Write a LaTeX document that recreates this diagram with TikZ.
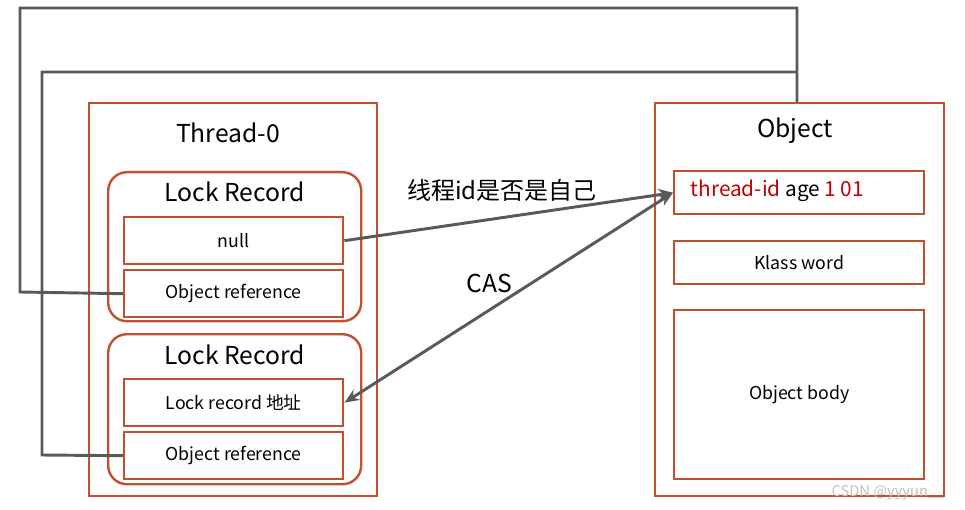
\documentclass[tikz,border=0pt]{standalone}
\usepackage{fontspec}
\setmainfont{Noto Sans CJK SC}
\usetikzlibrary{arrows.meta}
\definecolor{br}{HTML}{C0502E}
\definecolor{ln}{HTML}{595959}
\definecolor{rd}{HTML}{C00000}
\begin{document}
\begin{tikzpicture}[x=0.75pt,y=-0.75pt,
 box/.style={draw=br,line width=1.8pt,inner sep=0pt,anchor=north west},
 rbox/.style={box,rounded corners=14pt},
 con/.style={draw=ln,line width=2.2pt},
 arr/.style={con,-{Stealth[length=11pt,width=9pt]}},
 big/.style={font=\fontsize{18.5}{18.5}\selectfont},
 sm/.style={font=\fontsize{13.3}{13.3}\selectfont}]
\useasboundingbox (0,0) rectangle (965,510);
\node[box,minimum width=216pt,minimum height=294.75pt] (t0) at (88,102) {};
\node[big] (t0l) at (228,133) {Thread-0};
\node[rbox,minimum width=189.75pt,minimum height=111.75pt] (lr1) at (107,171) {};
\node[big] (lr1l) at (235,192) {Lock Record};
\node[box,minimum width=164.25pt,minimum height=35.25pt] (nul) at (123,216) {};
\node[sm] at (nul.center) {null};
\node[box,minimum width=164.25pt,minimum height=35.25pt] (or1) at (123,269) {};
\node[sm] at (or1.center) {Object reference};
\node[rbox,minimum width=189.75pt,minimum height=112.5pt] (lr2) at (107,333) {};
\node[big] (lr2l) at (235,355) {Lock Record};
\node[box,minimum width=164.25pt,minimum height=35.25pt] (lra) at (123,378) {};
\node[sm] at (lra.center) {Lock record 地址};
\node[box,minimum width=164.25pt,minimum height=35.25pt] (or2) at (123,431) {};
\node[sm] at (or2.center) {Object reference};
\node[box,minimum width=216.75pt,minimum height=294.75pt] (obj) at (654,102) {};
\node[big] (objl) at (795,131) {Object};
\node[box,minimum width=187.5pt,minimum height=32.25pt] (tid) at (673,170) {};
\node[font=\fontsize{15.6}{15.6}\selectfont,anchor=west] at (686,191) {\textcolor{rd}{thread-id} age \textcolor{rd}{1 01}};
\node[box,minimum width=187.5pt,minimum height=32.25pt] (kw) at (673,240) {};
\node[sm] at (kw.center) {Klass word};
\node[box,minimum width=187.5pt,minimum height=126.75pt] (ob) at (673,309) {};
\node[sm] at (ob.center) {Object body};
\coordinate (top) at (797,102);
\draw[con] (or1.west) -- (20,292) -- (20,8) -- (797,8) -- (top);
\draw[con] (or2.west) -- (42,455) -- (42,72) -- (797,72);
\draw[arr] (nul.east) -- (tid.west);
\draw[con,{Stealth[length=11pt,width=9pt]}-{Stealth[length=11pt,width=9pt]}] (lra.east) -- (tid.west);
\node[font=\fontsize{18}{18}\selectfont] (q) at (502,190) {线程id是否是自己};
\node[font=\fontsize{18.5}{18.5}\selectfont] (cas) at (489,283) {CAS};
\node[font=\fontsize{11}{11}\selectfont,text=black!25] (wm) at (888,493) {CSDN @yyyun\_\_};
\end{tikzpicture}
\end{document}
